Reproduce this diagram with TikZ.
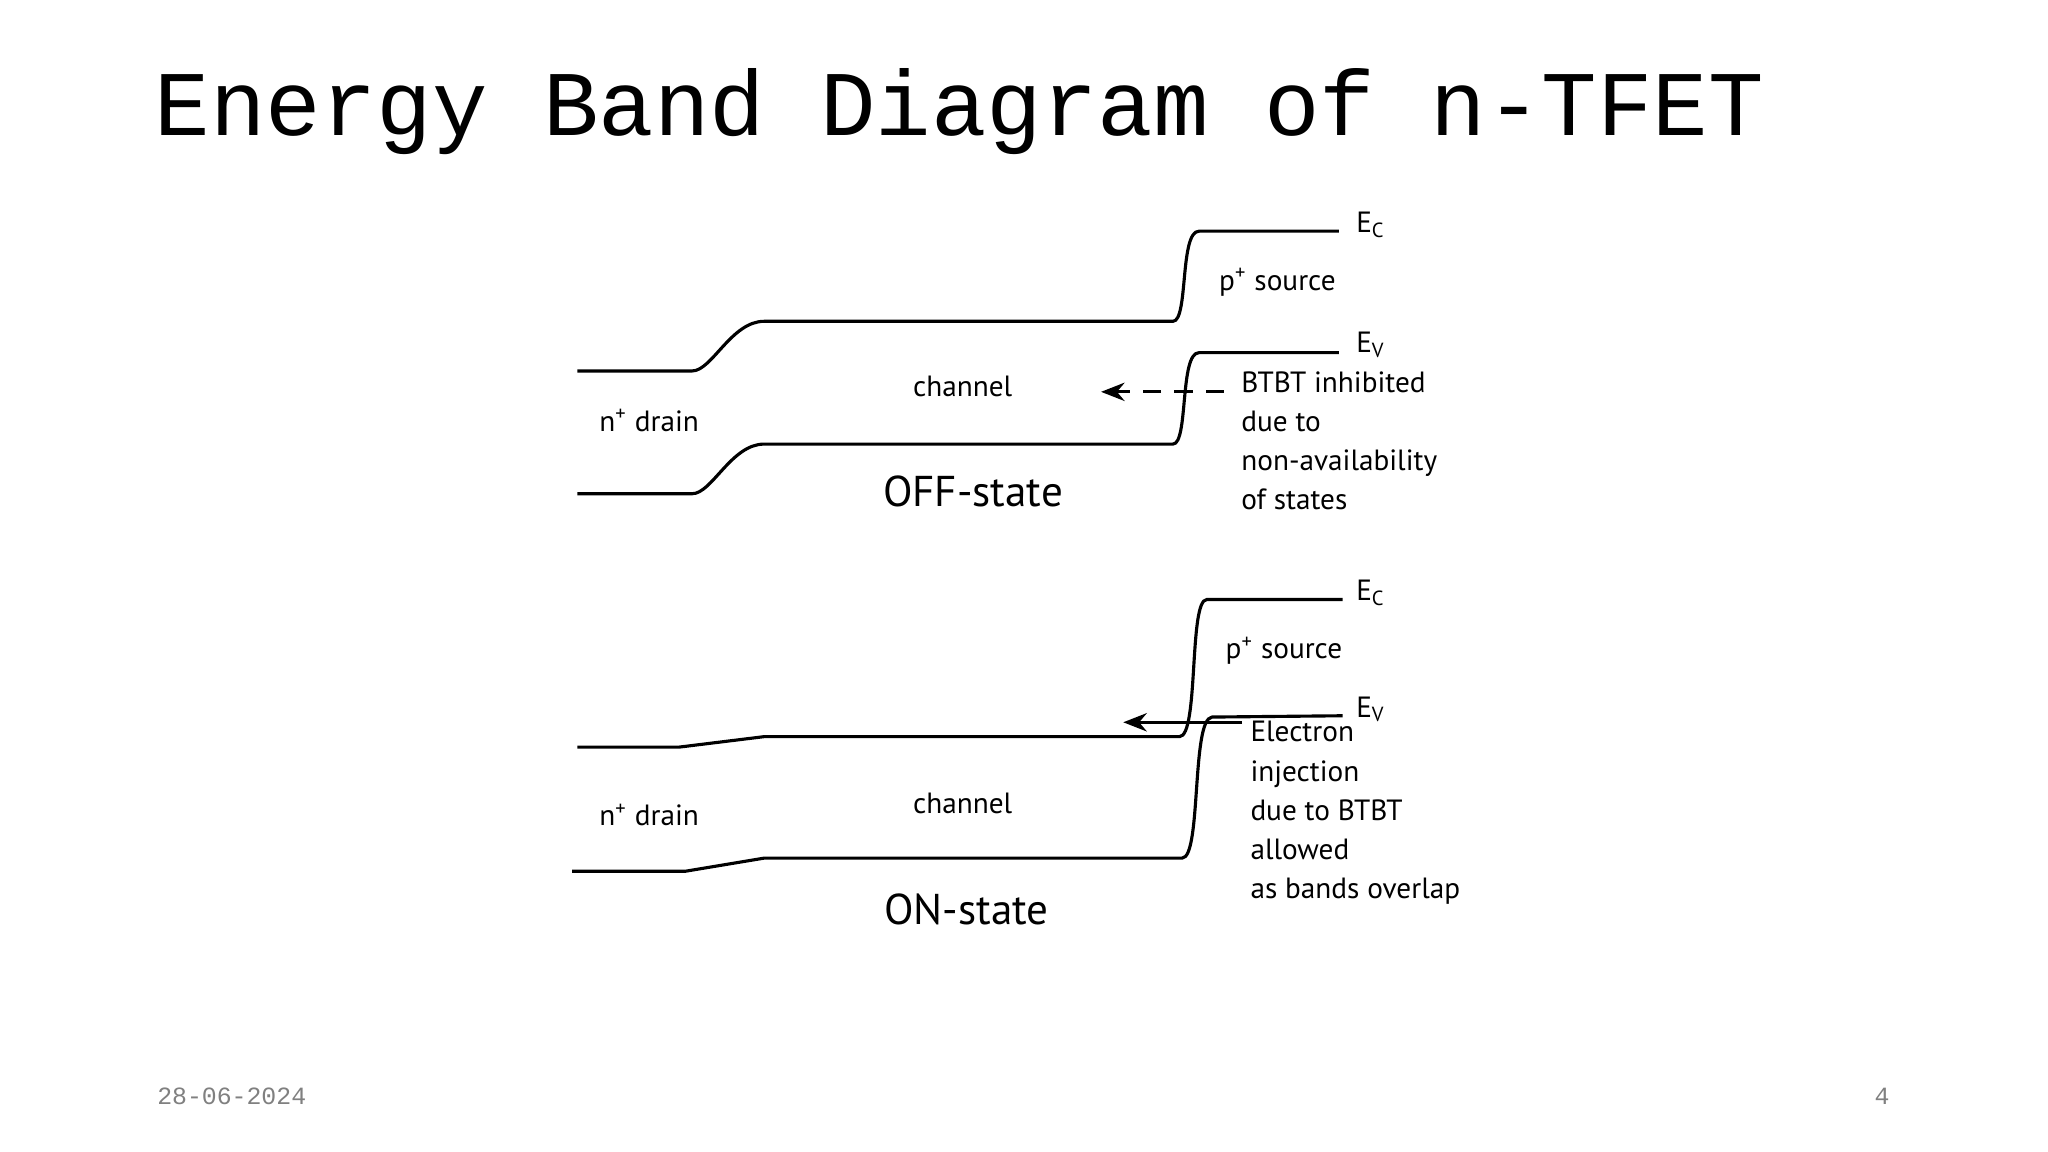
\documentclass[tikz,border=0pt]{standalone}
\usepackage{fontspec}
\setmainfont{PT Sans}
\newfontfamily\mono{Liberation Mono}
\usetikzlibrary{arrows.meta}
\begin{document}
\begin{tikzpicture}[x=0.5pt,y=-0.5pt,
  band/.style={line width=1.2pt},
  lab/.style={font=\fontsize{11.2}{13}\selectfont, inner sep=0pt},
  big/.style={font=\fontsize{16.5}{18}\selectfont, inner sep=0pt},
  blk/.style={font=\fontsize{11.2}{15}\selectfont, inner sep=0pt, align=left, anchor=north west},
  arr/.style={line width=1.2pt,-{Stealth[length=9pt,width=7pt]}}]
\useasboundingbox (0,0) rectangle (1568,882);
\fill[white] (0,0) rectangle (1568,882);
\node[anchor=base west, inner sep=0pt, font=\mono\fontsize{35.4}{40}\selectfont] (title) at (118,104) {Energy Band Diagram of n-TFET};
\node[anchor=base west, inner sep=0pt, font=\mono\fontsize{9.5}{11}\selectfont, text=gray] (date) at (120,846) {28-06-2024};
\node[anchor=base east, inner sep=0pt, font=\mono\fontsize{9.5}{11}\selectfont, text=gray] (pg) at (1447,846) {4};
% OFF state
\coordinate (oc0) at (442,284); \coordinate (oc1) at (1025,177);
\coordinate (ov0) at (442,378); \coordinate (ov1) at (1025,270);
\draw[band] (oc0) -- (530,284) .. controls (545,284) and (560,246) .. (585,246) -- (898,246)
  .. controls (910,246) and (903,177) .. (918,177) -- (oc1);
\draw[band] (ov0) -- (530,378) .. controls (545,378) and (560,340) .. (585,340) -- (898,340)
  .. controls (910,340) and (903,270) .. (918,270) -- (ov1);
\node[lab, anchor=west] (ec1) at (1038,172) {E\textsubscript{C}};
\node[lab] (ps1) at (978,216) {p\textsuperscript{+} source};
\node[lab, anchor=west] (ev1) at (1038,264) {E\textsubscript{V}};
\node[lab] (ch1) at (737,296) {channel};
\node[lab] (nd1) at (497,322) {n\textsuperscript{+} drain};
\node[big] (off) at (745,376) {OFF-state};
\node[blk] (t1) at (950,284) {BTBT inhibited\\due to\\non-availability\\of states};
\coordinate (d1) at (937,300); \coordinate (d2) at (843,300);
\draw[arr, dashed, dash pattern=on 7pt off 5pt] (d1) -- (d2);
% ON state
\coordinate (nc0) at (442,572); \coordinate (nc1) at (1028,459);
\coordinate (nv0) at (438,667); \coordinate (nv1) at (1028,548);
\draw[band] (nc0) -- (520,572) -- (585,564) -- (903,564)
  .. controls (918,564) and (910,459) .. (924,459) -- (nc1);
\draw[band] (nv0) -- (525,667) -- (585,657) -- (905,657)
  .. controls (920,657) and (912,550) .. (928,549) -- (nv1);
\node[lab, anchor=west] (ec2) at (1038,454) {E\textsubscript{C}};
\node[lab] (ps2) at (983,498) {p\textsuperscript{+} source};
\node[lab, anchor=west] (ev2) at (1038,543) {E\textsubscript{V}};
\node[lab] (ch2) at (737,615) {channel};
\node[lab] (nd2) at (497,624) {n\textsuperscript{+} drain};
\node[big] (on) at (740,696) {ON-state};
\node[blk] (t2) at (957,552) {Electron\\injection\\due to BTBT\\allowed\\as bands overlap};
\coordinate (a1) at (951,553); \coordinate (a2) at (860,553);
\draw[arr] (a1) -- (a2);
\end{tikzpicture}
\end{document}
